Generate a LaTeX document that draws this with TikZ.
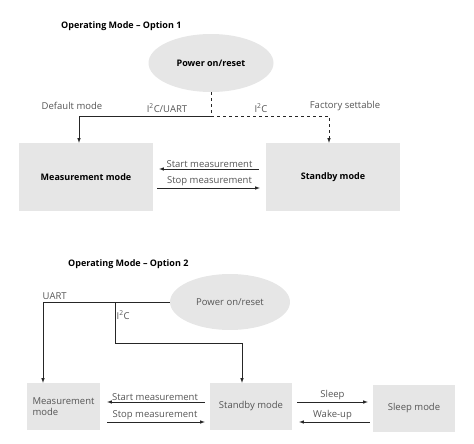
\documentclass[tikz,border=0pt]{standalone}
\usepackage{fontspec}
\setmainfont{Open Sans}
\usetikzlibrary{shapes,arrows,positioning,calc}

\definecolor{boxgray}{HTML}{E6E6E6}
\definecolor{txtgray}{HTML}{555555}

\begin{document}
\begin{tikzpicture}[x=1pt, y=-1pt,
    modebox/.style={rectangle, fill=boxgray, inner sep=2pt, font=\fontsize{9.5}{11}\selectfont},
    powernode/.style={ellipse, fill=boxgray, inner sep=0pt, font=\fontsize{9.5}{11}\selectfont},
    edgetext/.style={text=txtgray, inner sep=1.5pt, font=\fontsize{9.5}{11}\selectfont},
    titletext/.style={anchor=west, inner sep=0pt, font=\fontsize{9}{10}\selectfont\bfseries},
    arrow/.style={-latex, draw=black!85, semithick}
]
    \useasboundingbox (0,0) rectangle (474,444);

    % Option 1
    \node[titletext] (title1) at (61,26) {Operating Mode -- Option 1};
    \node[powernode, minimum width=125pt, minimum height=58pt] (power1) at (211,63) {\fontsize{9}{10}\selectfont\textbf{Power on/reset}};
    \node[modebox, minimum width=134pt, minimum height=68pt] (meas1) at (86,177) {\fontsize{9}{10}\selectfont\textbf{Measurement mode}};
    \node[modebox, minimum width=134pt, minimum height=68pt] (stby1) at (333,177) {\fontsize{9}{10}\selectfont\textbf{Standby mode}};
    \coordinate (split1) at (211,116);

    \draw[dashed, draw=black!85, semithick] (power1.south) -- (split1);
    \draw[arrow] (split1) -| ([xshift=-7pt]meas1.north);
    \draw[arrow, dashed] (split1) -| ([xshift=-4pt]stby1.north);

    \node[edgetext] (dflt) at (72,106) {Default mode};
    \node[edgetext] (bus1) at (167,108) {I\textsuperscript{2}C/UART};
    \node[edgetext] (i2c1) at (261,108) {I\textsuperscript{2}C};
    \node[edgetext] (fact) at (345,106) {Factory settable};

    \draw[arrow, shorten <=7pt, shorten >=6pt] ([yshift=8pt]stby1.west) -- node[edgetext, above] (start1) {Start measurement} ([yshift=8pt]meas1.east);
    \draw[arrow, shorten <=4pt, shorten >=6pt] ([yshift=-11pt]meas1.east) -- node[edgetext, above] (stop1) {Stop measurement} ([yshift=-11pt]stby1.west);

    % Option 2
    \node[titletext] (title2) at (68,264) {Operating Mode -- Option 2};
    \node[powernode, text=txtgray, minimum width=120pt, minimum height=56pt] (power2) at (230,302) {Power on/reset};
    \node[modebox, text=txtgray, align=left, minimum width=73pt, minimum height=47pt] (meas2) at (63.5,406.5) {Measurement\\mode};
    \node[modebox, text=txtgray, minimum width=82pt, minimum height=47pt] (stby2) at (251,406.5) {Standby mode};
    \node[modebox, text=txtgray, minimum width=82pt, minimum height=47pt] (sleep2) at (414,408.5) {Sleep mode};
    \coordinate (branch2) at (115,302);
    \coordinate (bend2) at (115,343);

    \draw[arrow] (power2.west) -| ([xshift=-20.5pt]meas2.north);
    \draw[arrow] (branch2) -- (bend2) -| ([xshift=-9pt]stby2.north);

    \node[edgetext, anchor=south west] (uart2) at (41,301) {UART};
    \node[edgetext, anchor=north west] (i2c2) at (115,309) {I\textsuperscript{2}C};

    \draw[arrow, shorten <=5pt, shorten >=7pt] ([yshift=4.5pt]stby2.west) -- node[edgetext, above] (start2) {Start measurement} ([yshift=4.5pt]stby2.west -| meas2.east);
    \draw[arrow, shorten <=7pt, shorten >=5pt] ([yshift=-15.5pt]stby2.west -| meas2.east) -- node[edgetext, above] (stop2) {Stop measurement} ([yshift=-15.5pt]stby2.west);
    \draw[arrow, shorten <=5pt, shorten >=5pt] ([yshift=4.5pt]stby2.east) -- node[edgetext, above] (sleep) {Sleep} ([yshift=4.5pt]stby2.east -| sleep2.west);
    \draw[arrow, shorten <=3pt, shorten >=7pt] ([yshift=-15.5pt]stby2.east -| sleep2.west) -- node[edgetext, above] (wake) {Wake-up} ([yshift=-15.5pt]stby2.east);
\end{tikzpicture}
\end{document}
